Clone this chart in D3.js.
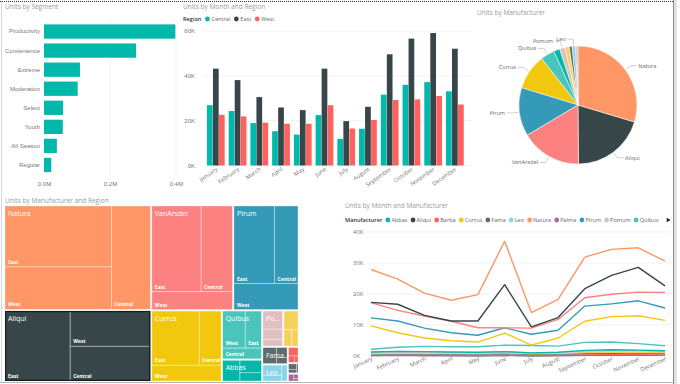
<!DOCTYPE html>
<html>
<head>
<meta charset="utf-8">
<title>Units dashboard</title>
<script src="https://cdnjs.cloudflare.com/ajax/libs/d3/7.8.5/d3.min.js"></script>
<style>
  body { margin: 0; background: #fff; }
  svg { display: block; font-family: "Open Sans", "Noto Sans", sans-serif; }
  .title { fill: #9a9a9a; font-size: 6.5px; }
  .axis text { fill: #777; font-size: 6px; }
  .axis .domain { display: none; }
  .grid line { stroke: #ececec; stroke-width: 0.7; }
  .legend text { fill: #666; font-size: 5.6px; }
  .legend .head { fill: #333; font-weight: 600; }
</style>
</head>
<body>
<script>
// ---- data
var segments = ['Productivity', 'Convenience', 'Extreme', 'Moderation', 'Select', 'Youth', 'All Season', 'Regular'];
var segmentUnits = [0.398, 0.279, 0.109, 0.102, 0.058, 0.057, 0.039, 0.022]; // millions

var months = ['January', 'February', 'March', 'April', 'May', 'June', 'July', 'August', 'September', 'October', 'November', 'December'];
var regions = ['Central', 'East', 'West'];
var regionColors = ['#01B8AA', '#374649', '#FD625E'];
var centralUnits = [26.9, 24.3, 18.9, 15.3, 13.8, 22.5, 11.9, 16.4, 31.6, 36.0, 37.2, 33.1]; // thousands
var eastUnits = [43.2, 38.1, 30.5, 25.9, 24.7, 43.2, 19.8, 26.2, 49.6, 56.6, 59.1, 52.1];
var westUnits = [22.6, 21.9, 19.1, 18.6, 18.6, 26.9, 16.5, 20.3, 29.2, 29.5, 31.0, 27.2];

var manufacturers = ['Abbas', 'Aliqui', 'Barba', 'Currus', 'Fama', 'Leo', 'Natura', 'Palma', 'Pirum', 'Pomum', 'Quibus', 'Salvus', 'VanArsdel', 'Victoria'];
var manuColors = ['#01B8AA', '#374649', '#FD625E', '#F2C80F', '#5F6B6D', '#8AD4EB', '#FE9666', '#A66999', '#3599B8', '#DFBFBF', '#4AC5BB', '#5F6B6D', '#FB8281', '#F4D25A'];
// units by region, thousands, same order as manufacturers
var eastByManu = [8, 95, 2, 54, 5.1, 4.5, 134, 1, 66, 8, 13, 1.2, 88, 6];
var westByManu = [6, 59, 1, 23, 2.5, 2.5, 94, 0.5, 35, 4.5, 18, 0.7, 30, 3];
var centralByManu = [4, 58, 0.6, 25, 1.5, 2, 83, 0.3, 38, 3, 9, 0.4, 56, 2.4];

// units by month, thousands
var unitsAbbas = [1.3, 1.5, 1.4, 1.3, 1.2, 1.4, 1.0, 1.2, 1.8, 2.0, 1.9, 1.7];
var unitsAliqui = [17.3, 16.7, 13.1, 11.3, 11.3, 23.0, 9.4, 12.4, 21.7, 26.0, 28.6, 22.6];
var unitsBarba = [0.3, 0.3, 0.3, 0.3, 0.2, 0.3, 0.2, 0.3, 0.4, 0.4, 0.4, 0.3];
var unitsCurrus = [9.7, 7.5, 5.8, 4.9, 4.5, 7.4, 3.5, 5.8, 11.2, 12.7, 13.0, 11.5];
var unitsFama = [0.7, 0.7, 0.7, 0.6, 0.6, 0.8, 0.5, 0.6, 0.9, 0.9, 1.0, 0.9];
var unitsLeo = [0.6, 0.7, 0.7, 0.7, 0.6, 0.8, 0.6, 0.6, 0.8, 0.9, 0.9, 0.8];
var unitsNatura = [27.9, 24.8, 20.3, 18.0, 19.8, 37.0, 14.0, 18.3, 31.9, 34.4, 34.9, 30.6];
var unitsPalma = [0.1, 0.2, 0.1, 0.1, 0.1, 0.2, 0.1, 0.1, 0.2, 0.2, 0.2, 0.2];
var unitsPirum = [12.3, 11.3, 9.0, 7.5, 6.7, 9.1, 7.0, 8.3, 16.1, 16.8, 17.8, 15.5];
var unitsPomum = [1.2, 1.3, 1.2, 1.1, 1.1, 1.3, 1.0, 1.1, 1.5, 1.6, 1.6, 1.5];
var unitsQuibus = [2.2, 2.8, 3.1, 3.0, 3.0, 3.5, 3.4, 3.2, 4.4, 4.5, 4.0, 3.3];
var unitsSalvus = [0.2, 0.2, 0.2, 0.2, 0.1, 0.2, 0.1, 0.2, 0.2, 0.3, 0.3, 0.2];
var unitsVanArsdel = [17.2, 14.7, 12.9, 11.2, 9.1, 9.1, 9.0, 11.8, 18.8, 19.9, 20.6, 20.5];
var unitsVictoria = [0.8, 0.9, 0.9, 0.8, 0.8, 1.0, 0.7, 0.8, 1.1, 1.2, 1.2, 1.1];
var monthlyByManu = [unitsAbbas, unitsAliqui, unitsBarba, unitsCurrus, unitsFama, unitsLeo, unitsNatura,
  unitsPalma, unitsPirum, unitsPomum, unitsQuibus, unitsSalvus, unitsVanArsdel, unitsVictoria];

var legendManus = manufacturers.slice(0, 11); // the rest sit behind the arrow
var pieLabelled = ['Natura', 'Aliqui', 'VanArsdel', 'Pirum', 'Currus', 'Quibus', 'Pomum', 'Leo'];
var highlighted = 'Aliqui';

var W = 680, H = 384;
var svg = d3.select('body').append('svg').attr('width', W).attr('height', H);
var colorOf = d3.scaleOrdinal().domain(manufacturers).range(manuColors);

// ---- page frame
svg.append('line').attr('x1', 1.5).attr('x2', 1.5).attr('y1', 0).attr('y2', 383)
  .attr('stroke', '#d8d8d8');
svg.append('line').attr('x1', 0).attr('x2', 673).attr('y1', 382.5).attr('y2', 382.5)
  .attr('stroke', '#b5b5b5');
svg.append('rect').attr('x', 674).attr('y', 0).attr('width', 3).attr('height', 384).attr('fill', '#e2e2e2');
svg.append('line').attr('x1', 673.5).attr('x2', 673.5).attr('y1', 0).attr('y2', 384)
  .attr('stroke', '#8c8c8c');
svg.append('line').attr('x1', 0).attr('x2', 673).attr('y1', 1.5).attr('y2', 1.5)
  .attr('stroke', '#333').attr('stroke-dasharray', '1,1');

function title(x, y, t) {
  svg.append('text').attr('class', 'title').attr('x', x).attr('y', y).text(t);
}

// ---- Units by Segment
title(5, 9, 'Units by Segment');
var segX = d3.scaleLinear().domain([0, 0.4]).range([44, 176]);
var segY = d3.scaleBand().domain(segments).range([22, 174.5]).paddingInner(0.25).paddingOuter(0.125);

svg.append('g').attr('class', 'grid').selectAll('line')
  .data([0.2, 0.4]).join('line')
  .attr('x1', d => segX(d)).attr('x2', d => segX(d)).attr('y1', 20).attr('y2', 176);

svg.append('g').selectAll('rect')
  .data(segmentUnits).join('rect')
  .attr('x', segX(0))
  .attr('y', (d, i) => segY(segments[i]))
  .attr('width', d => segX(d) - segX(0))
  .attr('height', segY.bandwidth())
  .attr('fill', '#01B8AA');

svg.append('g').attr('class', 'axis').attr('transform', 'translate(44,0)')
  .call(d3.axisLeft(segY).tickSize(0).tickPadding(4));
svg.append('g').attr('class', 'axis').attr('transform', 'translate(0,180)')
  .call(d3.axisBottom(segX).tickValues([0, 0.2, 0.4]).tickSize(0).tickPadding(2)
    .tickFormat(d => d.toFixed(1) + 'M'));

// ---- Units by Month and Region
title(183, 9, 'Units by Month and Region');
var colX = d3.scaleBand().domain(months).range([205, 466]).paddingInner(0.17).paddingOuter(0.09);
var colSub = d3.scaleBand().domain(regions).range([0, colX.bandwidth()]);
var colY = d3.scaleLinear().domain([0, 60]).range([165.5, 31]);
var regionColor = d3.scaleOrdinal().domain(regions).range(regionColors);

svg.append('g').attr('class', 'grid').selectAll('line')
  .data([0, 20, 40, 60]).join('line')
  .attr('x1', 205).attr('x2', 472).attr('y1', d => colY(d)).attr('y2', d => colY(d));
svg.append('g').attr('class', 'axis').attr('transform', 'translate(199,0)')
  .call(d3.axisLeft(colY).tickValues([0, 20, 40, 60]).tickSize(0).tickPadding(4).tickFormat(d => d + 'K'));

var colRows = [centralUnits, eastUnits, westUnits];
regions.forEach(function (r, ri) {
  svg.append('g').selectAll('rect')
    .data(colRows[ri]).join('rect')
    .attr('x', (d, i) => colX(months[i]) + colSub(r))
    .attr('y', d => colY(d))
    .attr('width', colSub.bandwidth() - 0.3)
    .attr('height', d => colY(0) - colY(d))
    .attr('fill', regionColor(r));
});

svg.append('g').selectAll('text')
  .data(months).join('text')
  .attr('transform', d => 'translate(' + (colX(d) + colX.bandwidth() / 2 + 2) + ',170) rotate(-35)')
  .attr('text-anchor', 'end')
  .attr('fill', '#777').attr('font-size', 5.8)
  .text(d => d);

// legend
var colLegend = svg.append('g').attr('class', 'legend');
var lx = colLegend.append('text').attr('class', 'head').attr('x', 183).attr('y', 21).text('Region');
var lend = 183 + lx.node().getComputedTextLength();
regions.forEach(function (r) {
  var cx = lend + 6;
  colLegend.append('circle').attr('cx', cx).attr('cy', 19).attr('r', 2.4).attr('fill', regionColor(r));
  var t = colLegend.append('text').attr('x', cx + 4).attr('y', 21).text(r);
  lend = cx + 4 + t.node().getComputedTextLength();
});

// ---- Units by Manufacturer (pie)
title(477, 15, 'Units by Manufacturer');
var totals = manufacturers.map((m, i) => ({
  name: m, value: eastByManu[i] + westByManu[i] + centralByManu[i]
}));
var pcx = 578, pcy = 105, pr = 59;
var pie = d3.pie().value(d => d.value).sort((a, b) => b.value - a.value);
var arcs = pie(totals);
var arc = d3.arc().innerRadius(0).outerRadius(pr);
var pieG = svg.append('g').attr('transform', 'translate(' + pcx + ',' + pcy + ')');
pieG.selectAll('path').data(arcs).join('path')
  .attr('d', arc)
  .attr('fill', d => colorOf(d.data.name))
  .attr('stroke', '#fff').attr('stroke-width', 0.5);

function polar(a, rad) { return [Math.sin(a) * rad, -Math.cos(a) * rad]; }
arcs.filter(d => pieLabelled.indexOf(d.data.name) >= 0).forEach(function (d) {
  var mid = (d.startAngle + d.endAngle) / 2;
  var p1 = polar(mid, pr + 1), p2 = polar(mid, pr + 7);
  var right = p2[0] > 0;
  var p3 = [p2[0] + (right ? 6 : -6), p2[1]];
  pieG.append('polyline')
    .attr('points', [p1, p2, p3].map(p => p.join(',')).join(' '))
    .attr('fill', 'none').attr('stroke', '#b0b0b0').attr('stroke-width', 0.6);
  pieG.append('text')
    .attr('x', p3[0] + (right ? 1.5 : -1.5)).attr('y', p3[1]).attr('dy', '0.35em')
    .attr('text-anchor', right ? 'start' : 'end')
    .attr('font-family', '"DejaVu Sans", sans-serif').attr('font-size', 5.3).attr('fill', '#707070')
    .text(d.data.name);
});

// ---- Units by Manufacturer and Region (treemap)
title(5, 203, 'Units by Manufacturer and Region');
var treeData = {
  name: 'all',
  children: manufacturers.map((m, i) => ({
    name: m,
    children: [
      { name: 'East', value: eastByManu[i] },
      { name: 'West', value: westByManu[i] },
      { name: 'Central', value: centralByManu[i] }
    ]
  }))
};
var root = d3.hierarchy(treeData).sum(d => d.value || 0).sort((a, b) => b.value - a.value);
d3.treemap().tile(d3.treemapSquarify).size([293, 175])
  .paddingInner(d => d.depth === 0 ? 1.5 : 0)(root);

var tm = svg.append('g').attr('transform', 'translate(5,206)');
var groups = tm.selectAll('g').data(root.children).join('g');
groups.append('rect')
  .attr('x', d => d.x0).attr('y', d => d.y0)
  .attr('width', d => d.x1 - d.x0).attr('height', d => d.y1 - d.y0)
  .attr('fill', d => colorOf(d.data.name));
groups.selectAll('rect.cell').data(d => d.children).join('rect')
  .attr('class', 'cell')
  .attr('x', d => d.x0).attr('y', d => d.y0)
  .attr('width', d => d.x1 - d.x0).attr('height', d => d.y1 - d.y0)
  .attr('fill', 'none')
  .attr('stroke', 'rgba(255,255,255,0.45)').attr('stroke-width', 0.7);
groups.filter(d => d.data.name === highlighted).append('rect')
  .attr('x', d => d.x0 + 0.6).attr('y', d => d.y0 + 0.6)
  .attr('width', d => d.x1 - d.x0 - 1.2).attr('height', d => d.y1 - d.y0 - 1.2)
  .attr('fill', 'none').attr('stroke', '#151a1b').attr('stroke-width', 1.2);

// region labels, only in the roomy tiles
groups.filter(d => d.x1 - d.x0 >= 35 && d.y1 - d.y0 >= 30)
  .selectAll('text.reg').data(d => d.children.filter(c => c.x1 - c.x0 >= 15 && c.y1 - c.y0 >= 9))
  .join('text').attr('class', 'reg')
  .attr('x', d => d.x0 + 3).attr('y', d => d.y1 - 3)
  .attr('fill', '#fff').attr('font-size', 5).attr('font-weight', 700)
  .text(d => d.data.name);

// manufacturer names, truncated to fit
groups.filter(d => d.x1 - d.x0 >= 18 && d.y1 - d.y0 >= 12).append('text')
  .attr('x', d => d.x0 + 3).attr('y', d => d.y0 + 10)
  .attr('fill', '#fff').attr('font-size', 7)
  .text(d => d.data.name)
  .each(function (d) {
    var el = d3.select(this), room = d.x1 - d.x0 - 4, s = d.data.name;
    while (this.getComputedTextLength() > room && s.length > 1) {
      s = s.slice(0, -1);
      el.text(s + '...');
    }
  });

// ---- Units by Month and Manufacturer (lines)
title(345, 208, 'Units by Month and Manufacturer');
var lineX = d3.scalePoint().domain(months).range([371, 665]);
var lineY = d3.scaleLinear().domain([0, 40]).range([356, 232]);

svg.append('g').attr('class', 'grid').selectAll('line')
  .data([0, 10, 20, 30, 40]).join('line')
  .attr('x1', 367).attr('x2', 671).attr('y1', d => lineY(d)).attr('y2', d => lineY(d));
svg.append('g').attr('class', 'axis').selectAll('text')
  .data([0, 10, 20, 30, 40]).join('text')
  .attr('x', 353).attr('y', d => lineY(d)).attr('dy', '0.35em')
  .text(d => d + 'K');

var line = d3.line().x((d, i) => lineX(months[i])).y(d => lineY(d));
var drawOrder = root.children.map(d => d.data.name).reverse(); // small ones first
svg.append('g').selectAll('path')
  .data(drawOrder).join('path')
  .attr('d', m => line(monthlyByManu[manufacturers.indexOf(m)]))
  .attr('fill', 'none')
  .attr('stroke', m => colorOf(m))
  .attr('stroke-width', 1.4)
  .attr('stroke-linejoin', 'round');

svg.append('g').selectAll('text')
  .data(months).join('text')
  .attr('transform', d => 'translate(' + (lineX(d) + 2) + ',360) rotate(-25)')
  .attr('text-anchor', 'end')
  .attr('fill', '#777').attr('font-size', 5.8)
  .text(d => d);

var lineLegend = svg.append('g').attr('class', 'legend');
var lh = lineLegend.append('text').attr('class', 'head').attr('x', 345).attr('y', 222).text('Manufacturer');
var lend2 = 345 + lh.node().getComputedTextLength();
legendManus.forEach(function (m) {
  var cx = lend2 + 5.5;
  lineLegend.append('circle').attr('cx', cx).attr('cy', 220).attr('r', 2.4).attr('fill', colorOf(m));
  var t = lineLegend.append('text').attr('x', cx + 3.5).attr('y', 222).text(m);
  lend2 = cx + 3.5 + t.node().getComputedTextLength();
});
lineLegend.append('path')
  .attr('d', d3.symbol(d3.symbolTriangle, 9)())
  .attr('transform', 'translate(668,220) rotate(90)')
  .attr('fill', '#222');
</script>
</body>
</html>
